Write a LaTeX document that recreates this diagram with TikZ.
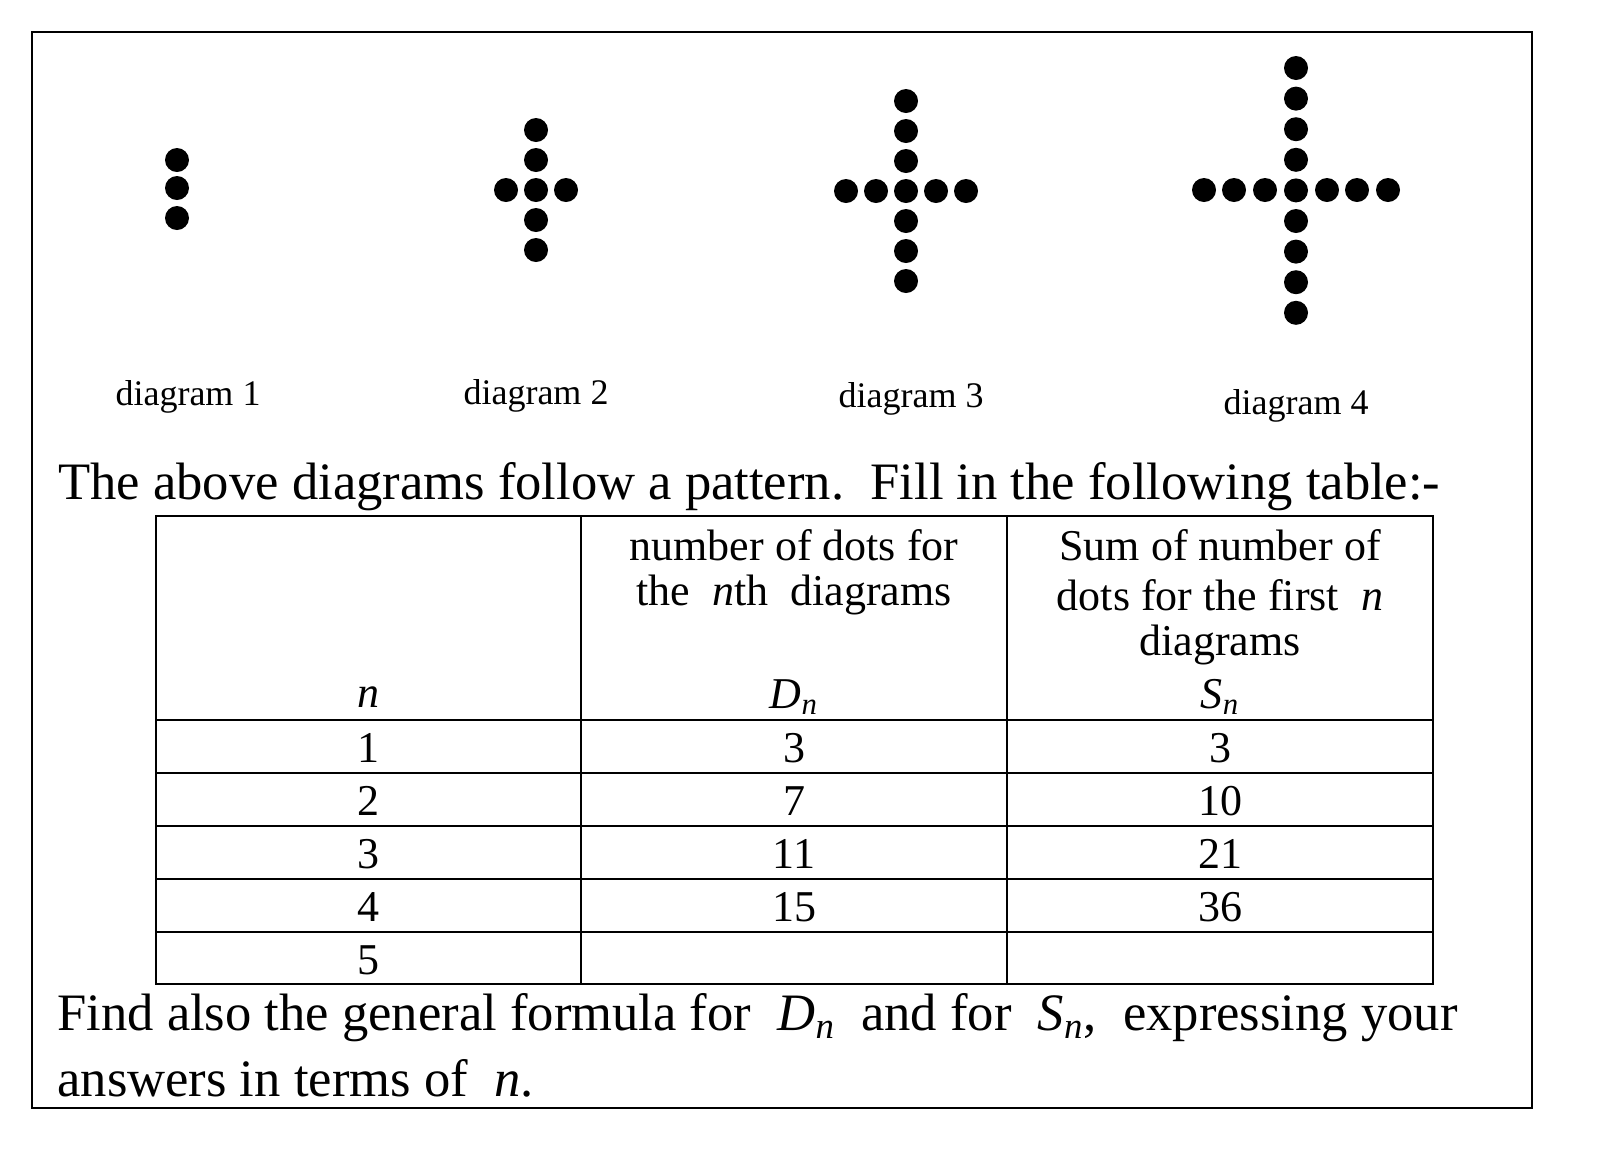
\documentclass[tikz,border=0pt]{standalone}
\usepackage{fontspec}
\setmainfont{Liberation Serif}
\begin{document}
\begin{tikzpicture}[x=0.5pt,y=-0.5pt,
  dot/.style={circle,fill=black,inner sep=0pt,minimum size=12pt},
  lab/.style={font=\fontsize{18}{20}\selectfont},
  big/.style={font=\fontsize{26.3}{29}\selectfont,anchor=west,inner sep=0pt},
  cell/.style={font=\fontsize{22}{25}\selectfont,inner sep=0pt},
  tl/.style={line width=1.2pt}]
\useasboundingbox (0,0) rectangle (1600,1158);
\node[draw,line width=1.2pt,minimum width=750pt,minimum height=538pt,inner sep=0pt] (frame) at (782,570) {};
% diagram 1
\foreach \y [count=\i] in {160,188,218} \node[dot] (a\i) at (177,\y) {};
% diagram 2
\foreach \y [count=\i] in {130,160,190,220,250} \node[dot] (b\i) at (536,\y) {};
\foreach \x [count=\i] in {506,566} \node[dot] (bh\i) at (\x,190) {};
% diagram 3
\foreach \y [count=\i] in {101,131,161,191,221,251,281} \node[dot] (c\i) at (906,\y) {};
\foreach \x [count=\i] in {846,876,936,966} \node[dot] (ch\i) at (\x,191) {};
% diagram 4
\foreach \k in {0,...,8} \node[dot] (d\k) at (1296,68+30.6*\k) {};
\foreach \x [count=\i] in {1204,1234,1265,1327,1357,1388} \node[dot] (dh\i) at (\x,190) {};
\node[lab] (l1) at (188,397) {diagram 1};
\node[lab] (l2) at (536,396) {diagram 2};
\node[lab] (l3) at (911,399) {diagram 3};
\node[lab] (l4) at (1296,406) {diagram 4};
\node[big] (t1) at (58,487) {The above diagrams follow a pattern.\ \ Fill in the following table:-};
% table
\draw[tl] (156,516) rectangle (1433,984);
\foreach \x in {581,1007} \draw[tl] (\x,516) -- (\x,984);
\foreach \y in {720,773,826,879,932} \draw[tl] (156,\y) -- (1433,\y);
\node[cell] (h1) at (794,545) {number of dots for};
\node[cell] (h2) at (794,595) {the \ \textit{n}th \ diagrams};
\node[cell] (h3) at (1220,545) {Sum of number of};
\node[cell] (h4) at (1220,595) {dots for the first \ \textit{n}};
\node[cell] (h5) at (1220,645) {diagrams};
\node[cell] (hn) at (368,697) {\textit{n}};
\node[cell] (hd) at (794,697) {\textit{D\textsubscript{n}}};
\node[cell] (hs) at (1220,697) {\textit{S\textsubscript{n}}};
\foreach \n/\d/\s [count=\i] in {1/3/3,2/7/10,3/11/21,4/15/36,5//} {
  \node[cell] (n\i) at (368,695+53*\i) {\n};
  \node[cell] (dd\i) at (794,695+53*\i) {\d};
  \node[cell] (ss\i) at (1220,695+53*\i) {\s};
}
\node[big] (t2) at (57,1018) {Find also the general formula for \ \textit{D\textsubscript{n}} \ and for \ \textit{S\textsubscript{n}}, \ expressing your};
\node[big] (t3) at (57,1078) {answers in terms of \ \textit{n}.};
\end{tikzpicture}
\end{document}
